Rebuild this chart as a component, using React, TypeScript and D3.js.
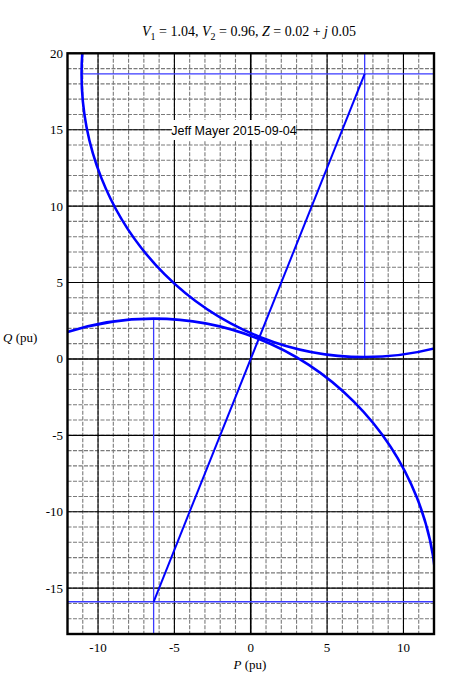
import React from "react";
import * as d3 from "d3";

// ---- data ----
const xDomain: [number, number] = [-12, 12];
const yDomain: [number, number] = [-18, 20];
const xTicks = [-10, -5, 0, 5, 10];
const yTicks = [20, 15, 10, 5, 0, -5, -10, -15];
const minorX = d3.range(-12, 13, 1);
const minorY = d3.range(-18, 21, 1);
const majorX = [-10, -5, 5, 10];
const majorY = [-15, -10, -5, 5, 10, 15];

// power circles: centre (P, Q) and radius
const circleCentersP = [7.46, -6.36];
const circleCentersQ = [18.65, -15.89];
const circleRadius = [18.54, 18.54];

// thin construction lines [x1, y1, x2, y2]
const hLines = [
  [-11.08, 18.65, 12, 18.65],
  [-12, -15.89, 12, -15.89],
];
const vLines = [
  [7.46, 20, 7.46, 0.11],
  [-6.36, 2.65, -6.36, -18],
];
const diagLine = [-6.36, -15.89, 7.46, 18.65];

const W = 468;
const H = 678;
const left = 67.5;
const right = 434;
const top = 53.3;
const bottom = 634;

export default function App() {
  const x = d3.scaleLinear().domain(xDomain).range([left, right]);
  const y = d3.scaleLinear().domain(yDomain).range([bottom, top]);
  const serif = "'Liberation Serif', 'Times New Roman', serif";
  const sans = "'Liberation Sans', Arial, sans-serif";
  const thin = "#3a3aff";

  return (
    <svg
      width={W}
      height={H}
      style={{ position: "absolute", left: 0, top: 0, background: "#fff" }}
      fontFamily={serif}
    >
      <defs>
        <clipPath id="plot">
          <rect x={left} y={top} width={right - left} height={bottom - top} />
        </clipPath>
      </defs>

      {/* minor grid */}
      <g stroke="#7a7a7a" strokeWidth={1.1} strokeDasharray="4,1.5">
        {minorX.map((v) => (
          <line key={"mx" + v} x1={x(v)} x2={x(v)} y1={top} y2={bottom} />
        ))}
        {minorY.map((v) => (
          <line key={"my" + v} x1={left} x2={right} y1={y(v)} y2={y(v)} />
        ))}
      </g>
      {/* major grid */}
      <g stroke="#000" strokeWidth={1.1}>
        {majorX.map((v) => (
          <line key={"Mx" + v} x1={x(v)} x2={x(v)} y1={top} y2={bottom} />
        ))}
        {majorY.map((v) => (
          <line key={"My" + v} x1={left} x2={right} y1={y(v)} y2={y(v)} />
        ))}
      </g>
      {/* zero axes */}
      <g stroke="#000" strokeWidth={1.6}>
        <line x1={x(0)} x2={x(0)} y1={top} y2={bottom} />
        <line x1={left} x2={right} y1={y(0)} y2={y(0)} />
      </g>

      {/* label box */}
      <rect x={172} y={120} width={124} height={20} fill="#fff" />
      <text x={234} y={134.5} textAnchor="middle" fontFamily={sans} fontSize={12.5} fill="#000">
        Jeff Mayer 2015-09-04
      </text>

      <g clipPath="url(#plot)">
        {/* thin construction lines */}
        <g stroke={thin} strokeWidth={1.3}>
          {hLines.concat(vLines).map((l, i) => (
            <line key={"l" + i} x1={x(l[0])} y1={y(l[1])} x2={x(l[2])} y2={y(l[3])} />
          ))}
        </g>
        <line
          x1={x(diagLine[0])}
          y1={y(diagLine[1])}
          x2={x(diagLine[2])}
          y2={y(diagLine[3])}
          stroke="#0000ff"
          strokeWidth={2}
        />
        {circleCentersP.map((cp, i) => (
          <circle
            key={"c" + i}
            cx={x(cp)}
            cy={y(circleCentersQ[i])}
            r={x(circleRadius[i]) - x(0)}
            fill="none"
            stroke="#0000ff"
            strokeWidth={2.6}
          />
        ))}
      </g>

      {/* border */}
      <rect
        x={left}
        y={top}
        width={right - left}
        height={bottom - top}
        fill="none"
        stroke="#000"
        strokeWidth={2.4}
      />

      {/* tick labels */}
      <g fontSize={13} fill="#000">
        {yTicks.map((v) => (
          <text key={"yt" + v} x={63} y={y(v) + 4.5} textAnchor="end">
            {v}
          </text>
        ))}
        {xTicks.map((v) => (
          <text key={"xt" + v} x={x(v)} y={652} textAnchor="middle">
            {v}
          </text>
        ))}
      </g>

      {/* axis titles */}
      <text x={250} y={669} textAnchor="middle" fontSize={13}>
        <tspan fontStyle="italic">P</tspan> (pu)
      </text>
      <text x={3} y={342} textAnchor="start" fontSize={13}>
        <tspan fontStyle="italic">Q</tspan> (pu)
      </text>

      {/* title */}
      <text x={249} y={36} textAnchor="middle" fontSize={14}>
        <tspan fontStyle="italic">V</tspan>
        <tspan dy={4} fontSize={10}>1</tspan>
        <tspan dy={-4}> = 1.04, </tspan>
        <tspan fontStyle="italic">V</tspan>
        <tspan dy={4} fontSize={10}>2</tspan>
        <tspan dy={-4}> = 0.96, </tspan>
        <tspan fontStyle="italic">Z</tspan>
        <tspan> = 0.02 + </tspan>
        <tspan fontStyle="italic">j</tspan>
        <tspan> 0.05</tspan>
      </text>
    </svg>
  );
}
